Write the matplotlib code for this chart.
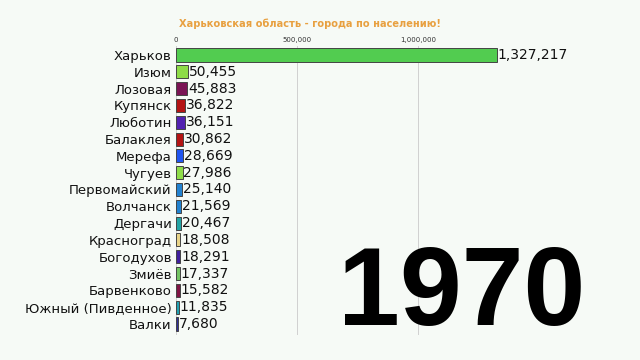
import matplotlib
matplotlib.use("Agg")
import matplotlib.pyplot as plt
from matplotlib.ticker import FuncFormatter

cities = ["Харьков", "Изюм", "Лозовая", "Купянск", "Люботин", "Балаклея", "Мерефа",
          "Чугуев", "Первомайский", "Волчанск", "Дергачи", "Красноград", "Богодухов",
          "Змиёв", "Барвенково", "Южный (Пивденное)", "Валки"]
population = [1327217, 50455, 45883, 36822, 36151, 30862, 28669, 27986, 25140,
              21569, 20467, 18508, 18291, 17337, 15582, 11835, 7680]
colors = ["#52cc50", "#8edc48", "#7a1454", "#b41414", "#5222b0", "#b41414", "#2055f0",
          "#8edc48", "#2282d0", "#2282d0", "#22a4a4", "#e8d488", "#40209e",
          "#72c462", "#801444", "#22a2b2", "#30309a"]
xticks = [0, 500000, 1000000]
title = "Харьковская область - города по населению!"
year = "1970"

bg = "#f6faf6"
fig = plt.figure(figsize=(6.4, 3.6), dpi=100, facecolor=bg)
ax = fig.add_axes([176/640, 25/360, (640-176)/640, 289/360])
ax.set_facecolor(bg)

ypos = list(range(len(cities)))
ax.barh(ypos, population, height=0.78, color=colors, edgecolor="#444444", linewidth=0.7, zorder=3)
ax.set_ylim(16 + 11/16.8, -9/16.8)
ax.set_xlim(0, (640-176)/121*500000)

ax.set_yticks(ypos)
ax.set_yticklabels(cities, fontsize=9.5, color="#111111")
ax.tick_params(axis="y", length=0, pad=3)

ax.xaxis.tick_top()
ax.set_xticks(xticks)
ax.xaxis.set_major_formatter(FuncFormatter(lambda v, p: f"{int(v):,}"))
ax.tick_params(axis="x", length=0, labelsize=5, colors="#333333", pad=2)
ax.grid(axis="x", color="#d0d0d0", linewidth=0.7, zorder=0)
ax.grid(axis="y", visible=False)
for s in ax.spines.values():
    s.set_visible(False)

for y, v in zip(ypos, population):
    ax.text(v + 3000, y, f"{v:,}", va="center", ha="left", fontsize=10, color="#111111", zorder=4)

fig.text(0.484, 0.933, title, ha="center", va="center", fontsize=7.1, fontweight="bold", color="#e8a040")
fig.text(0.722, 0.178, year, ha="center", va="center", fontsize=80, fontweight="bold",
         color="#000000", family=["Liberation Sans", "DejaVu Sans"])

fig.savefig("out.png", dpi=100, facecolor=bg)
